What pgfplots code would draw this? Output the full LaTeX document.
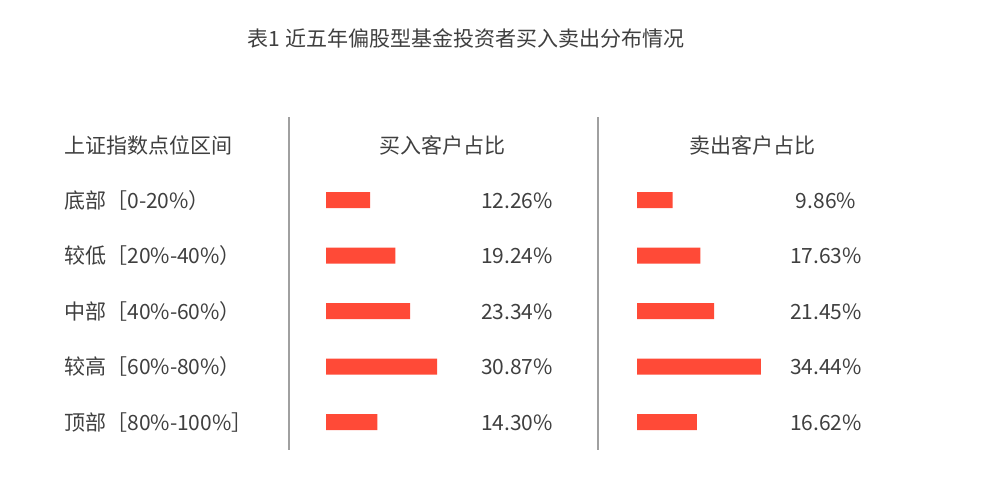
\documentclass[border=0pt]{standalone}
\usepackage{fontspec}
\setmainfont{Noto Sans CJK SC}
\usepackage{pgfplots}
\pgfplotsset{compat=1.18}
\definecolor{barred}{HTML}{FF4A37}
\definecolor{txt}{HTML}{3F3F3F}
\definecolor{sep}{HTML}{A0A0A0}
\begin{document}
\begin{tikzpicture}
\path[use as bounding box] (0pt,0pt) rectangle (500pt,-239.5pt);
\pgfplotsset{
  panel/.style={
    xbar, scale only axis, width=72pt, height=138.75pt,
    xmin=0, xmax=40, ymin=-0.5, ymax=4.5, y dir=reverse,
    axis lines=none, ticks=none, bar width=8pt,
    anchor=south west, clip=false
  }
}
\begin{axis}[panel, at={(163pt,-224.875pt)}]
\addplot[fill=barred, draw=none] coordinates {(12.26,0) (19.24,1) (23.34,2) (30.87,3) (14.30,4)};
\end{axis}
\begin{axis}[panel, at={(318.5pt,-224.875pt)}]
\addplot[fill=barred, draw=none] coordinates {(9.86,0) (17.63,1) (21.45,2) (34.44,3) (16.62,4)};
\end{axis}
\begin{scope}[x=0.5pt, y=-0.5pt, every node/.style={text=txt, font=\fontsize{10.5pt}{12pt}\selectfont, inner sep=0pt}]
\node at (466,38) {表1 近五年偏股型基金投资者买入卖出分布情况};
\draw[sep, line width=1pt] (289,117) -- (289,450);
\draw[sep, line width=1pt] (598,117) -- (598,450);
\node[anchor=west] at (64,145) {上证指数点位区间};
\node at (442,145) {买入客户占比};
\node at (752,145) {卖出客户占比};
\node[anchor=west] at (64,201) {底部［0-20\%）};
\node[anchor=west] at (64,256) {较低［20\%-40\%）};
\node[anchor=west] at (64,312) {中部［40\%-60\%）};
\node[anchor=west] at (64,367) {较高［60\%-80\%）};
\node[anchor=west] at (64,423) {顶部［80\%-100\%］};
\node at (517,201) {12.26\%};
\node at (517,256) {19.24\%};
\node at (517,312) {23.34\%};
\node at (517,367) {30.87\%};
\node at (517,423) {14.30\%};
\node at (826,201) {9.86\%};
\node at (826,256) {17.63\%};
\node at (826,312) {21.45\%};
\node at (826,367) {34.44\%};
\node at (826,423) {16.62\%};
\end{scope}
\end{tikzpicture}
\end{document}
